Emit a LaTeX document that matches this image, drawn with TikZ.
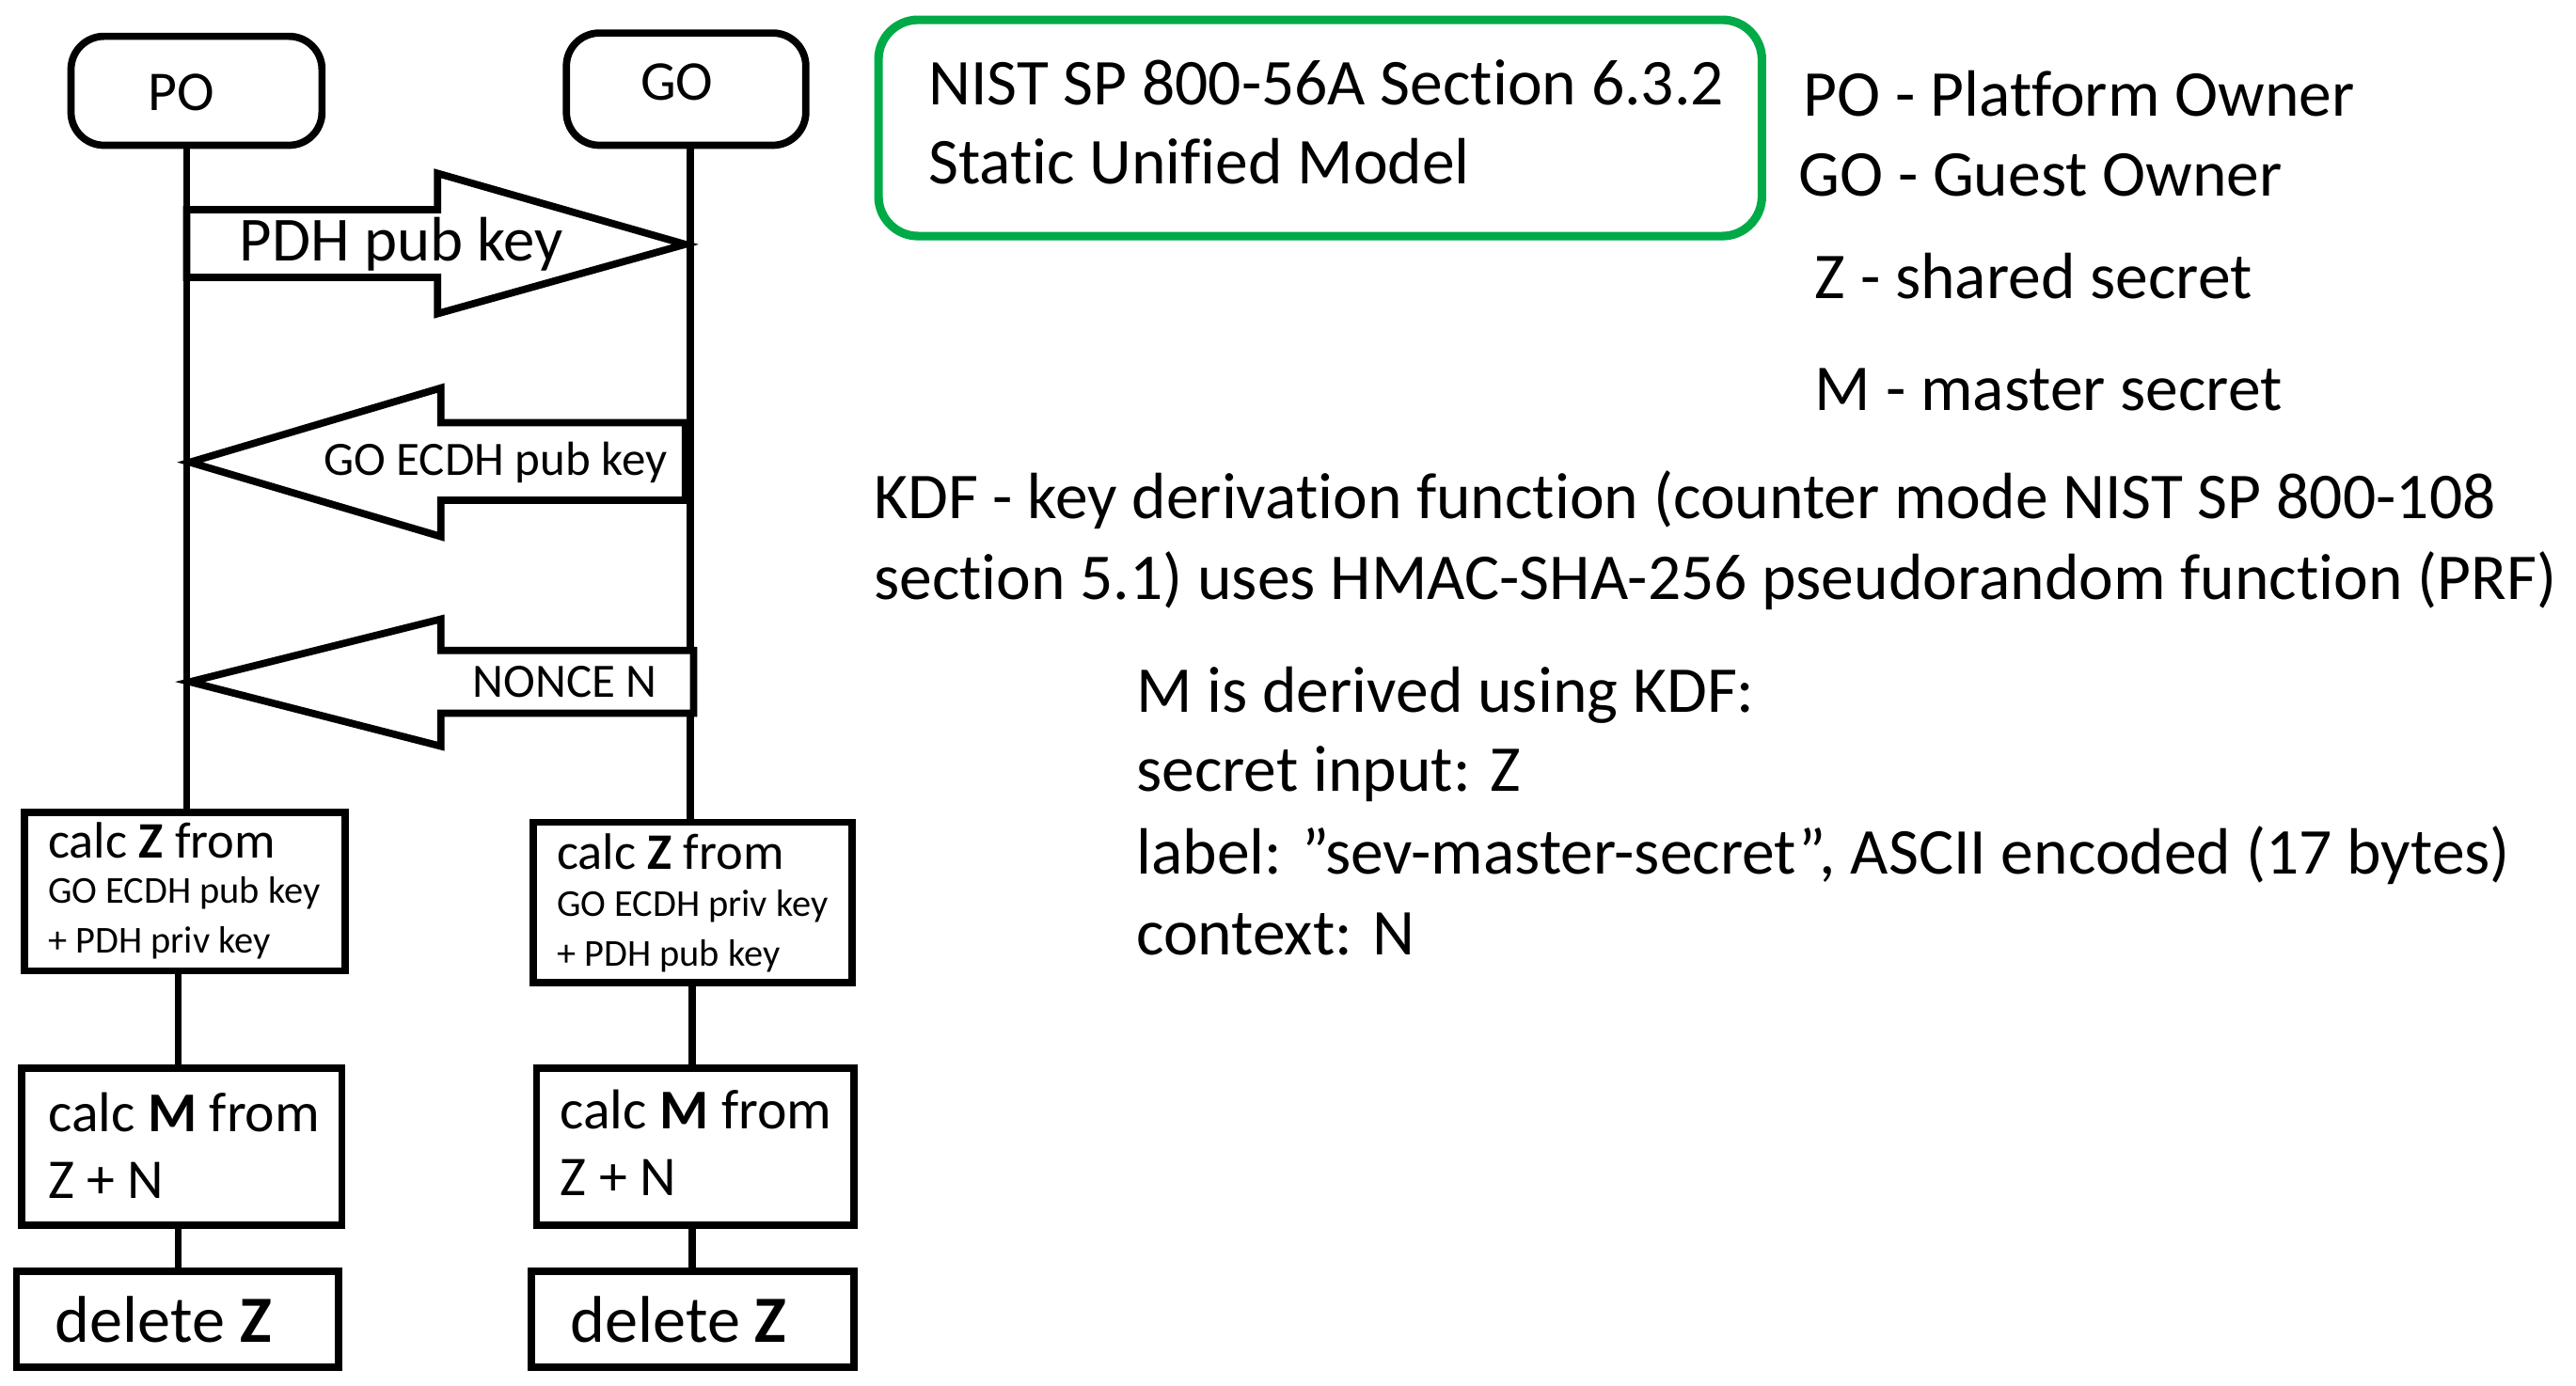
\documentclass[tikz,border=0pt]{standalone}
\usepackage{fontspec}
\setmainfont{Carlito}[Ligatures=NoCommon]
\begin{document}
\begin{tikzpicture}[x=0.01756cm,y=-0.01756cm,line width=2.2pt,
  big/.style={font=\fontsize{17}{20}\selectfont},
  sm/.style={anchor=west,inner sep=0pt,font=\fontsize{11.5}{14}\selectfont},
  txt/.style={anchor=west,inner sep=0pt,font=\fontsize{19.8}{23}\selectfont}]
\useasboundingbox (0,0) rectangle (1560,839);
\definecolor{gr}{RGB}{0,170,70}
% heads
\draw[rounded corners=10pt] (43,22) rectangle (195,88);
\node[big] (po) at (110,56) {PO};
\draw[rounded corners=10pt] (343,20) rectangle (488,88);
\node[big] (go) at (410,50) {GO};
% lifelines
\coordinate (pot) at (113,88); \coordinate (pob) at (113,492);
\coordinate (got) at (418,88); \coordinate (gob) at (418,498);
\draw (pot) -- (pob); \draw (got) -- (gob);
% arrows
\draw[fill=white] (113,127) -- (265,127) -- (265,105) -- (415,148) -- (265,190) -- (265,168) -- (113,168) -- cycle;
\node[font=\fontsize{19}{22}\selectfont] (a1) at (243,148) {PDH pub key};
\draw[fill=white] (415,256) -- (267,256) -- (267,235) -- (115,280) -- (267,325) -- (267,303) -- (415,303) -- cycle;
\node[font=\fontsize{14.5}{17}\selectfont] (a2) at (300,280) {GO ECDH pub key};
\draw[fill=white] (420,394) -- (267,394) -- (267,375) -- (115,413) -- (267,452) -- (267,432) -- (420,432) -- cycle;
\node[font=\fontsize{14.5}{17}\selectfont] (a3) at (342,413) {NONCE N};
% boxes
\draw (15,492) rectangle (209,588);
\node[sm,font=\fontsize{15.5}{18}\selectfont] (pz1) at (27,509) {calc \textbf{Z} from};
\node[sm] (pz2) at (27,541) {GO ECDH pub key};
\node[sm] (pz3) at (27,571) {+ PDH priv key};
\draw (323,498) rectangle (516,595);
\node[sm,font=\fontsize{15.5}{18}\selectfont] (gz1) at (335,516) {calc \textbf{Z} from};
\node[sm] (gz2) at (335,549) {GO ECDH priv key};
\node[sm] (gz3) at (335,579) {+ PDH pub key};
\draw (108,588) -- (108,647); \draw (419,595) -- (419,647);
\draw (13,647) rectangle (207,742);
\node[sm,font=\fontsize{17}{20}\selectfont] (pm1) at (27,674) {calc \textbf{M} from};
\node[sm,font=\fontsize{17}{20}\selectfont] (pm2) at (27,715) {Z + N};
\draw (325,647) rectangle (517,742);
\node[sm,font=\fontsize{17}{20}\selectfont] (gm1) at (337,672) {calc \textbf{M} from};
\node[sm,font=\fontsize{17}{20}\selectfont] (gm2) at (337,713) {Z + N};
\draw (108,742) -- (108,770); \draw (419,742) -- (419,770);
\draw (10,770) rectangle (205,828);
\node[font=\fontsize{20}{24}\selectfont] (pd) at (99,799) {delete \textbf{Z}};
\draw (322,770) rectangle (517,828);
\node[font=\fontsize{20}{24}\selectfont] (gd) at (411,799) {delete \textbf{Z}};
% green box
\draw[gr,line width=2.6pt,rounded corners=12pt] (532,12) rectangle (1067,143);
\node[txt] (n1) at (560,50) {NIST SP 800-56A Section 6.3.2};
\node[txt] (n2) at (560,98) {Static Unified Model};
% legend
\node[txt] (l1) at (1090,57) {PO - Platform Owner};
\node[txt] (l2) at (1087,106) {GO - Guest Owner};
\node[txt] (l3) at (1097,167) {Z - shared secret};
\node[txt] (l4) at (1097,236) {M - master secret};
\node[txt] (k1) at (527,303) {KDF - key derivation function (counter mode NIST SP 800-108};
\node[txt] (k2) at (527,352) {section 5.1) uses HMAC-SHA-256 pseudorandom function (PRF)};
\node[txt] (m1) at (686,421) {M is derived using KDF:};
\node[txt] (m2) at (686,469) {secret input: Z};
\node[txt] (m3) at (686,518) {label: \symbol{34}sev-master-secret\symbol{34}, ASCII encoded (17 bytes)};
\node[txt] (m4) at (686,566) {context: N};
\end{tikzpicture}
\end{document}
